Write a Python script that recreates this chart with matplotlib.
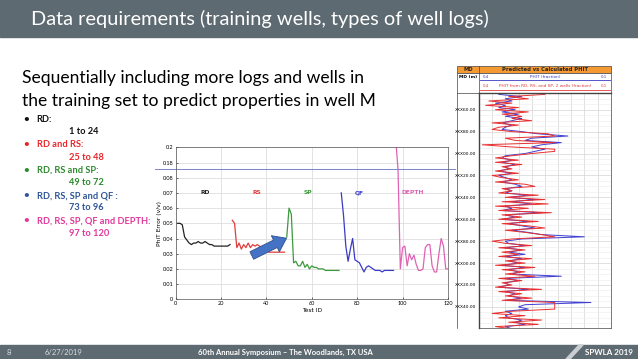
import numpy as np
import matplotlib
matplotlib.use("Agg")
import matplotlib.pyplot as plt
from matplotlib.patches import Rectangle, Polygon
from matplotlib.ticker import MultipleLocator

plt.rcParams["font.family"] = ["Lato", "DejaVu Sans"]

W, H = 638, 359

# ---- PhiT error vs test id (five training stages) ----
rd_ids = list(range(1, 25))
rd_err = [0.050, 0.050, 0.049, 0.041, 0.039, 0.037, 0.036, 0.037, 0.037, 0.038, 0.037, 0.037,
          0.038, 0.037, 0.036, 0.036, 0.035, 0.035, 0.035, 0.035, 0.035, 0.035, 0.035, 0.036]
rs_ids = list(range(25, 49))
rs_err = [0.052, 0.050, 0.034, 0.037, 0.033, 0.036, 0.034, 0.037, 0.034, 0.036, 0.035, 0.036,
          0.035, 0.033, 0.032, 0.033, 0.031, 0.031, 0.031, 0.031, 0.031, 0.031, 0.031, 0.031]
sp_ids = list(range(49, 73))
sp_err = [0.041, 0.060, 0.056, 0.024, 0.025, 0.022, 0.022, 0.025, 0.021, 0.023, 0.020, 0.022,
          0.021, 0.021, 0.020, 0.020, 0.020, 0.019, 0.019, 0.019, 0.019, 0.019, 0.019, 0.019]
qf_ids = list(range(73, 97))
qf_err = [0.070, 0.055, 0.035, 0.025, 0.033, 0.040, 0.026, 0.025, 0.024, 0.021, 0.018, 0.021,
          0.022, 0.021, 0.020, 0.019, 0.019, 0.019, 0.018, 0.019, 0.019, 0.019, 0.019, 0.019]
depth_ids = list(range(97, 121))
depth_err = [0.21, 0.085, 0.020, 0.034, 0.035, 0.022, 0.030, 0.026, 0.029, 0.023, 0.019, 0.019,
             0.020, 0.034, 0.036, 0.036, 0.022, 0.018, 0.018, 0.030, 0.040, 0.035, 0.020, 0.020]

series_names = ["RD", "RS", "SP", "QF", "DEPTH"]
series_colors = ["#222222", "#e23b3b", "#3c9a3c", "#3a3ac4", "#e062b4"]
label_x = [13, 36, 58.5, 81, 104.5]

y_ticks = [0, 0.01, 0.02, 0.03, 0.04, 0.05, 0.06, 0.07, 0.08, 0.18, 0.2]
y_tick_labels = ["0", "0.01", "0.02", "0.03", "0.04", "0.05", "0.06", "0.07", "0.08", "0.18", "0.2"]

# ---- well log track (MD vs PHIT) ----
md = np.arange(46, 264, 2)
phit = [0.34, 0.27, 0.32, 0.30, 0.35, 0.32, 0.34, 0.29, 0.33, 0.28,
        0.32, 0.27, 0.30, 0.33, 0.30, 0.32, 0.33, 0.27, 0.22, 0.13,
        0.24, 0.26, 0.15, 0.21, 0.24, 0.20, 0.23, 0.26, 0.32, 0.33,
        0.30, 0.33, 0.29, 0.32, 0.31, 0.34, 0.30, 0.34, 0.32, 0.30,
        0.33, 0.29, 0.27, 0.32, 0.30, 0.32, 0.25, 0.31, 0.23, 0.30,
        0.24, 0.32, 0.30, 0.33, 0.21, 0.32, 0.29, 0.33, 0.25, 0.31,
        0.27, 0.23, 0.30, 0.25, 0.21, 0.08, 0.27, 0.32, 0.31, 0.26,
        0.32, 0.27, 0.31, 0.26, 0.32, 0.27, 0.31, 0.28, 0.33, 0.26,
        0.31, 0.28, 0.30, 0.15, 0.32, 0.28, 0.32, 0.31, 0.34, 0.25,
        0.32, 0.29, 0.31, 0.27, 0.32, 0.06, 0.26, 0.28, 0.25, 0.32,
        0.30, 0.32, 0.31, 0.27, 0.29, 0.26, 0.32, 0.30, 0.31]
phit_pred = [0.20, 0.31, 0.25, 0.37, 0.30, 0.38, 0.28, 0.35, 0.25, 0.33,
             0.27, 0.30, 0.24, 0.36, 0.28, 0.34, 0.36, 0.30, 0.19, 0.17,
             0.32, 0.29, 0.17, 0.39, 0.30, 0.17, 0.17, 0.24, 0.30, 0.35,
             0.28, 0.35, 0.27, 0.33, 0.30, 0.35, 0.28, 0.36, 0.33, 0.28,
             0.35, 0.26, 0.23, 0.33, 0.30, 0.34, 0.22, 0.32, 0.20, 0.33,
             0.19, 0.35, 0.25, 0.34, 0.18, 0.33, 0.27, 0.34, 0.22, 0.33,
             0.25, 0.20, 0.32, 0.26, 0.21, 0.17, 0.30, 0.36, 0.32, 0.24,
             0.34, 0.26, 0.33, 0.28, 0.34, 0.24, 0.32, 0.26, 0.35, 0.23,
             0.33, 0.26, 0.32, 0.23, 0.34, 0.27, 0.33, 0.30, 0.35, 0.21,
             0.34, 0.27, 0.32, 0.24, 0.33, 0.17, 0.17, 0.17, 0.17, 0.30,
             0.36, 0.26, 0.34, 0.21, 0.31, 0.22, 0.35, 0.30, 0.34]
md_ticks = [60, 80, 100, 120, 140, 160, 180, 200, 220, 240]
md_labels = ["XXX60.00", "XXX80.00", "XXX00.00", "XXX20.00", "XXX40.00",
             "XXX60.00", "XXX80.00", "XXX00.00", "XXX20.00", "XXX40.00"]

# ---- slide text ----
bullet_heads = ["RD:", "RD and RS:", "RD, RS and SP:", "RD, RS, SP and QF :", "RD, RS, SP, QF and DEPTH:"]
bullet_ranges = ["1 to 24", "25 to 48", "49 to 72", "73 to 96", "97 to 120"]
bullet_colors = ["#111111", "#e8262b", "#2e8b2e", "#2f5597", "#e0389b"]

BAR = "#5e6a71"


def px_axes(fig, x0, y0, x1, y1):
    return fig.add_axes([x0 / W, 1 - y1 / H, (x1 - x0) / W, (y1 - y0) / H])


fig = plt.figure(figsize=(W / 100, H / 100), dpi=100)

bg = fig.add_axes([0, 0, 1, 1])
bg.set_xlim(0, W)
bg.set_ylim(H, 0)
bg.axis("off")

# header and footer bars
bg.add_patch(Rectangle((0, 0), W, 37, color=BAR))
bg.text(31, 18.5, "Data requirements (training wells, types of well logs)", color="white",
        fontsize=14.4, va="center", ha="left")
bg.add_patch(Rectangle((0, 345), W, 14, color=BAR))
bg.add_patch(Polygon([(566, 359), (579, 345), (583, 345), (570, 359)], color="#c9ced2"))
bg.text(7, 352.5, "8", color="#d8dcdf", fontsize=5.5, va="center")
bg.text(45, 352.5, "6/27/2019", color="#d8dcdf", fontsize=5.5, va="center")
bg.text(285, 352.5, "60th Annual Symposium \u2013 The Woodlands, TX USA", color="white",
        fontsize=5.5, fontweight="bold", va="center", ha="center")
bg.text(633, 352.5, "SPWLA 2019", color="white", fontsize=5.8, fontweight="bold",
        va="center", ha="right")

bg.text(22, 78, "Sequentially including more logs and wells in", fontsize=12.6, va="center")
bg.text(22, 101, "the training set to predict properties in well M", fontsize=12.6, va="center")

for i, (head, rng, col) in enumerate(zip(bullet_heads, bullet_ranges, bullet_colors)):
    y = 119.3 + i * 25.4
    bg.text(23, y, "\u2022", color=col, fontsize=7, va="center", fontweight="bold")
    bg.text(36.7, y, head, color=col, fontsize=6.7, va="center", fontweight="bold")
    bg.text(69, y + 12.5, rng, color=col, fontsize=6.7, va="center", fontweight="bold")

# ---- error chart with broken y axis ----
LO, HI = 0.0854, 0.1708


def fwd(v):
    v = np.asarray(v, dtype=float)
    return np.where(v >= HI, v / 2, np.minimum(v, LO))


def inv(d):
    d = np.asarray(d, dtype=float)
    return np.where(d > LO, d * 2, d)


ax = px_axes(fig, 175.5, 147.3, 448, 299.3)
ax.set_yscale("function", functions=(fwd, inv))
ax.set_xlim(0, 120)
ax.set_ylim(0, 0.2)
ax.set_yticks(y_ticks)
ax.set_yticklabels(y_tick_labels)
ax.set_xticks([0, 20, 40, 60, 80, 100, 120])
ax.grid(True, color="#dedede", lw=0.6)
ax.set_axisbelow(True)
ax.tick_params(labelsize=4, length=1.5, width=0.4, pad=1.5, direction="in")
for s in ax.spines.values():
    s.set_linewidth(0.5)
    s.set_color("#555555")

all_ids = [rd_ids, rs_ids, sp_ids, qf_ids, depth_ids]
all_err = [rd_err, rs_err, sp_err, qf_err, depth_err]
for ids, err, name, col, lx in zip(all_ids, all_err, series_names, series_colors, label_x):
    ax.plot(ids, err, color=col, lw=0.9)
    ax.text(lx, 0.07, name, color=col, fontsize=4.3, ha="center", va="center",
            family="DejaVu Sans", fontweight="bold")

ax.axhline(LO, xmin=-0.075, xmax=1.025, color="#7c84cc", lw=0.7, clip_on=False)
ax.annotate("", xy=(50, 0.041), xytext=(32.5, 0.028),
            arrowprops=dict(arrowstyle="simple,head_width=1.3,head_length=0.9,tail_width=0.6",
                            fc="#4472c4", ec="#2f528f", lw=0.6, mutation_scale=10))
ax.set_xlabel("Test ID", fontsize=4.3, labelpad=1, family="DejaVu Sans")
ax.set_ylabel("PhiT Error (v/v)", fontsize=4.3, labelpad=0.5, family="DejaVu Sans")

# ---- well log panel ----
PX0, PX1, MDX = 457.3, 610.7, 479
bg.add_patch(Rectangle((PX0, 65.7), PX1 - PX0, 7.6, fc="#f59a32", ec="#444444", lw=0.5))
bg.text((PX0 + MDX) / 2, 69.5, "MD", fontsize=3.8, fontweight="bold", ha="center", va="center",
        family="DejaVu Sans", color="#222222")
bg.text((MDX + PX1) / 2, 69.5, "Predicted vs Calculated PHIT", fontsize=3.8, fontweight="bold",
        ha="center", va="center", family="DejaVu Sans", color="#222222")
bg.add_patch(Rectangle((PX0, 73.3), PX1 - PX0, 20, fc="white", ec="#444444", lw=0.5))
bg.plot([MDX, MDX], [65.7, 93.3], color="#444444", lw=0.5)
bg.text((PX0 + MDX) / 2, 77, "MD (m)", fontsize=3.2, ha="center", va="center",
        family="DejaVu Sans", fontweight="bold")
for yt, yl, col, lab in [(76.7, 79.6, "#3a3ac4", "PHIT (fraction)"),
                         (86.0, 90.3, "#e23b3b", "PHIT from RD, RS, and SP, 2 wells (fraction)")]:
    bg.text(483, yt, "0.4", fontsize=2.9, color=col, va="center", family="DejaVu Sans")
    bg.text(607, yt, "0.1", fontsize=2.9, color=col, va="center", ha="right", family="DejaVu Sans")
    bg.text((MDX + PX1) / 2, yt, lab, fontsize=3.1, color=col, va="center", ha="center",
            family="DejaVu Sans")
    bg.plot([MDX + 1, PX1 - 1], [yl, yl], color=col, lw=0.6)

tr = px_axes(fig, MDX, 93.3, PX1, 327.7)
tr.set_xlim(0.4, 0.0)
tr.set_ylim(259, 45)
tr.xaxis.set_major_locator(MultipleLocator(0.04))
tr.yaxis.set_minor_locator(MultipleLocator(5))
tr.set_yticks(md_ticks)
tr.set_yticklabels(md_labels)
tr.tick_params(axis="y", which="both", length=0, labelsize=3.2, pad=2)
tr.tick_params(axis="x", length=0, labelbottom=False)
tr.grid(True, which="major", color="#d4d4d4", lw=0.5)
tr.grid(True, which="minor", axis="y", color="#ececec", lw=0.4)
tr.set_axisbelow(True)
for s in tr.spines.values():
    s.set_linewidth(0.5)
    s.set_color("#444444")
tr.spines["left"].set_linewidth(1.0)
tr.spines["top"].set_linewidth(1.0)
tr.plot(phit, md, color="#4040d0", lw=0.7)
tr.plot(phit_pred, md, color="#e83030", lw=0.7)
for lab in tr.get_yticklabels():
    lab.set_family("DejaVu Sans")
bg.plot([PX0, PX0], [93.3, 327.7], color="#444444", lw=0.5)

fig.savefig("out.png", dpi=100)
